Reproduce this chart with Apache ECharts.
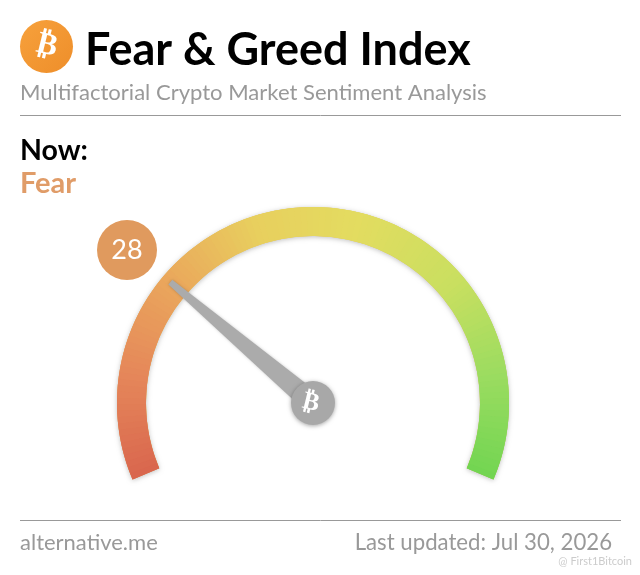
<!DOCTYPE html>
<html><head><meta charset="utf-8">
<style>html,body{margin:0;padding:0;background:#fff}#c{width:640px;height:575px}</style>
<script src="https://cdn.jsdelivr.net/npm/echarts@6/dist/echarts.min.js"></script>
</head><body><div id="c"></div>
<script>
const indexValue = 28;
const titleText = 'Fear & Greed Index';
const subtitleText = 'Multifactorial Crypto Market Sentiment Analysis';
const nowLabel = 'Now:';
const sentiment = 'Fear';
const sourceText = 'alternative.me';
const updatedText = 'Last updated: Jul 30, 2026';
const watermarkText = '@ First1Bitcoin';
const btc = '\u20BF';
const rampPos = [0, 0.14, 0.28, 0.42, 0.56, 0.72, 0.86, 1];
const rampCol = ['#d9664e', '#e5875a', '#eaa75c', '#e8cf5e', '#e3dc60', '#c9df60', '#9bdc60', '#72d552'];

function hex(c){return [1,3,5].map(i=>parseInt(c.substr(i,2),16));}
function ramp(t){
  let i=0; while(i<rampPos.length-2 && t>rampPos[i+1]) i++;
  const k=(t-rampPos[i])/(rampPos[i+1]-rampPos[i]), a=hex(rampCol[i]), b=hex(rampCol[i+1]);
  return 'rgb('+a.map((v,j)=>Math.round(v+(b[j]-v)*k)).join(',')+')';
}
const N=120, segs=[], under=[];
for(let i=1;i<=N;i++) segs.push([i/N, ramp((i-.5)/N)]);
for(let i=0;i<=N;i++) under.push([i<N?(i+.5)/N:1, ramp(i/N)]);

const chart=echarts.init(document.getElementById('c'),null,{renderer:'canvas'});
const font='Lato, "Open Sans", sans-serif';
const bare={axisTick:{show:false},splitLine:{show:false},axisLabel:{show:false},title:{show:false}};
const geom={type:'gauge',center:[313,403],radius:196,startAngle:203,endAngle:-23,min:0,max:100,splitNumber:10};
chart.setOption({
  backgroundColor:'#fff',
  animation:false,
  title:[
    {text:titleText,left:85,top:28,textStyle:{fontFamily:font,fontWeight:700,fontSize:45,color:'#000'},padding:0},
    {text:subtitleText,left:20,top:82,textStyle:{fontFamily:font,fontWeight:400,fontSize:22.05,color:'#999'},padding:0}
  ],
  graphic:[
    {type:'line',shape:{x1:20,y1:115.5,x2:621,y2:115.5},style:{stroke:'#999',lineWidth:1}},
    {type:'line',shape:{x1:20,y1:520.5,x2:621,y2:520.5},style:{stroke:'#999',lineWidth:1}},
    {type:'circle',shape:{cx:46.5,cy:46.5,r:26.5},style:{fill:new echarts.graphic.LinearGradient(0,0,1,1,[{offset:0,color:'#f7a13c'},{offset:1,color:'#ee8e2a'}])}},
    {type:'text',x:47,y:46,rotation:-0.24,style:{text:btc,fontFamily:'DejaVu Sans',fontWeight:700,fontSize:31,fill:'#fff',align:'center',verticalAlign:'middle'}},
    {type:'text',x:20,y:151,style:{text:nowLabel,fontFamily:font,fontWeight:700,fontSize:28.5,fill:'#000',verticalAlign:'middle'}},
    {type:'text',x:20,y:184,style:{text:sentiment,fontFamily:font,fontWeight:700,fontSize:29,fill:'#e09c68',verticalAlign:'middle'}},
    {type:'text',x:20,y:543,style:{text:sourceText,fontFamily:font,fontSize:22,fill:'#999',verticalAlign:'middle'}},
    {type:'text',x:612,y:543,style:{text:updatedText,fontFamily:font,fontSize:22.2,fill:'#999',align:'right',verticalAlign:'middle'}},
    {type:'text',x:632,y:561,style:{text:watermarkText,fontFamily:font,fontSize:11,fill:'#ccc',align:'right',verticalAlign:'middle'}},
    {type:'text',x:311,y:403,z:50,rotation:-0.24,style:{text:btc,fontFamily:'DejaVu Sans',fontWeight:700,fontSize:25,fill:'#fff',align:'center',verticalAlign:'middle'}}
  ],
  series:[
    Object.assign({},geom,bare,{
      axisLine:{roundCap:false,lineStyle:{width:29,color:[[1,'#e5c75e']],shadowColor:'rgba(0,0,0,.25)',shadowBlur:5,shadowOffsetY:1}},
      pointer:{show:false},anchor:{show:false},detail:{show:false},data:[{value:0}]}),
    Object.assign({},geom,bare,{
      axisLine:{roundCap:false,lineStyle:{width:29,color:under}},
      pointer:{show:false},anchor:{show:false},detail:{show:false},data:[{value:0}]}),
    Object.assign({},geom,bare,{
      axisLine:{roundCap:false,lineStyle:{width:29,color:segs}},
      pointer:{icon:'path://M-3 0 L3 0 L11 100 L-11 100 Z',length:187,width:22,offsetCenter:[0,0],
        itemStyle:{color:'#ababab',shadowColor:'rgba(0,0,0,.2)',shadowBlur:3}},
      anchor:{show:true,showAbove:true,size:44,itemStyle:{color:'#a8a8a8',shadowColor:'rgba(0,0,0,.35)',shadowBlur:4,shadowOffsetY:1}},
      detail:{show:true,valueAnimation:false,offsetCenter:[-186,-153],width:60,height:60,lineHeight:60,borderRadius:30,padding:0,
        backgroundColor:'#e09a5e',color:'#fff',fontFamily:font,fontSize:27,fontWeight:400,formatter:'{value}'},
      data:[{value:indexValue}]})
  ]
});
</script></body></html>
